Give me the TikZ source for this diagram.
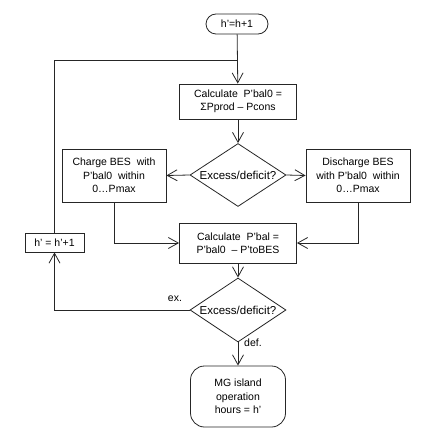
\documentclass[tikz,border=0pt]{standalone}
\usepackage{fontspec}
\setmainfont{Liberation Sans}
\usetikzlibrary{arrows.meta,shapes.geometric,shapes.misc}

\begin{document}
\begin{tikzpicture}[
    x=1pt, y=-1pt,
    font=\fontsize{10.5}{13.3}\selectfont,
    flow_line/.style={draw=black!85, line width=0.8pt},
    flow_arrow/.style={flow_line, -{Straight Barb[length=10pt,width=11pt,line width=0.8pt]}},
    box_style/.style={rectangle, draw=black!85, line width=0.8pt, align=center, inner sep=1pt},
    decision_style/.style={diamond, draw=black!85, line width=0.8pt, inner sep=0pt,
        minimum width=96pt, minimum height=63pt, font=\fontsize{11.5}{13.3}\selectfont},
    terminal_style/.style={rounded rectangle, draw=black!85, line width=0.8pt, align=center, inner sep=1pt}
]
\useasboundingbox (0,0) rectangle (435,441);

% Start and first balance
\node[terminal_style, minimum width=64pt, minimum height=20pt] (start) at (237,24) {h’=h+1};
\node[box_style, minimum width=117pt, minimum height=35pt] (calc_bal0) at (238,101.5) {Calculate \ P’bal0 =\\ΣPprod – Pcons};
\coordinate (loop_join) at (238,60);

% First decision: charge or discharge
\node[decision_style] (decide_bes) at (238,175) {\makebox[0pt]{Excess/deficit?}};
\node[box_style, minimum width=104pt, minimum height=53pt] (charge) at (114,175.5) {Charge BES \ with\\P’bal0 \ within\\0…Pmax};
\node[box_style, minimum width=104pt, minimum height=53pt] (discharge) at (358,175.5) {Discharge BES\\with P’bal0 \ within\\0…Pmax};

% Remaining balance
\node[box_style, minimum width=117pt, minimum height=40pt] (calc_bal) at (238,243) {Calculate \ P’bal =\\P’bal0 \ – P’toBES};
\node[box_style, minimum width=59pt, minimum height=19pt] (next_hour) at (54.5,242.5) {h’ = h’+1};

% Second decision and end
\node[decision_style, minimum height=64pt] (decide_end) at (238,310) {\makebox[0pt]{Excess/deficit?}};
\node[box_style, rounded corners=14pt, minimum width=95pt, minimum height=61pt] (stop) at (238,396.5) {MG island\\operation\\hours = h’};

\draw[flow_arrow] (start) -- (calc_bal0);
\draw[flow_line] (next_hour.north) |- (loop_join);
\draw[flow_arrow] (calc_bal0) -- (decide_bes);
\draw[flow_arrow] (decide_bes.west) -- (charge.east);
\draw[flow_arrow] (decide_bes.east) -- (discharge.west);
\draw[flow_arrow] (charge.south) |- (calc_bal.west);
\draw[flow_arrow] (discharge.south) |- (calc_bal.east);
\draw[flow_arrow] (calc_bal) -- (decide_end);
\draw[flow_arrow] (decide_end.west) -| (next_hour.south);
\draw[flow_arrow] (decide_end) -- (stop);

\node (lbl_ex) at (175,299) {ex.};
\node (lbl_def) at (253,343) {def.};

\end{tikzpicture}
\end{document}
